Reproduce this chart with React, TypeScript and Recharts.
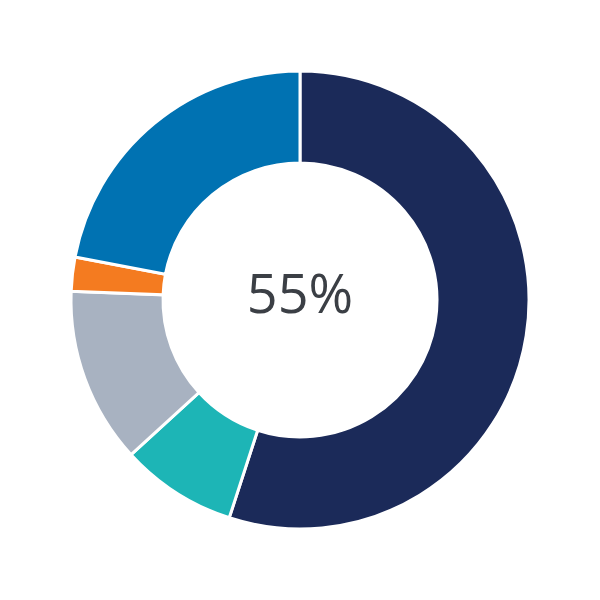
import React from 'react';
import { PieChart, Pie, Cell, Label } from 'recharts';

const segments = ['Navy', 'Teal', 'Gray', 'Orange', 'Blue'];
const shares = [55, 8.2, 12.4, 2.4, 22.0];
const colors = ['#1B2A59', '#1DB5B6', '#A8B2C1', '#F47B20', '#0072B2'];
const centerLabel = '55%';

const data = segments.map((name, i) => ({ name, value: shares[i] }));

const CX = 300;
const CY = 300;

const CenterText = () => (
  <text
    x={CX}
    y={CY + 13}
    textAnchor="middle"
    fill="#3B3F45"
    style={{ fontFamily: '"Open Sans", sans-serif', fontSize: 54, fontWeight: 400 }}
  >
    {centerLabel}
  </text>
);

const App = () => {
  return (
    <div style={{ width: 600, height: 600, marginLeft: -8, marginTop: -8 }}>
      <PieChart width={600} height={600} margin={{ top: 0, right: 0, bottom: 0, left: 0 }}>
        <Pie
          data={data}
          dataKey="value"
          nameKey="name"
          cx={CX}
          cy={CY}
          innerRadius={137}
          outerRadius={229}
          startAngle={90}
          endAngle={-270}
          stroke="#ffffff"
          strokeWidth={3}
          isAnimationActive={false}
        >
          {data.map((d, i) => (
            <Cell key={d.name} fill={colors[i]} />
          ))}
          <Label position="center" content={CenterText} />
        </Pie>
      </PieChart>
    </div>
  );
};

export default App;
